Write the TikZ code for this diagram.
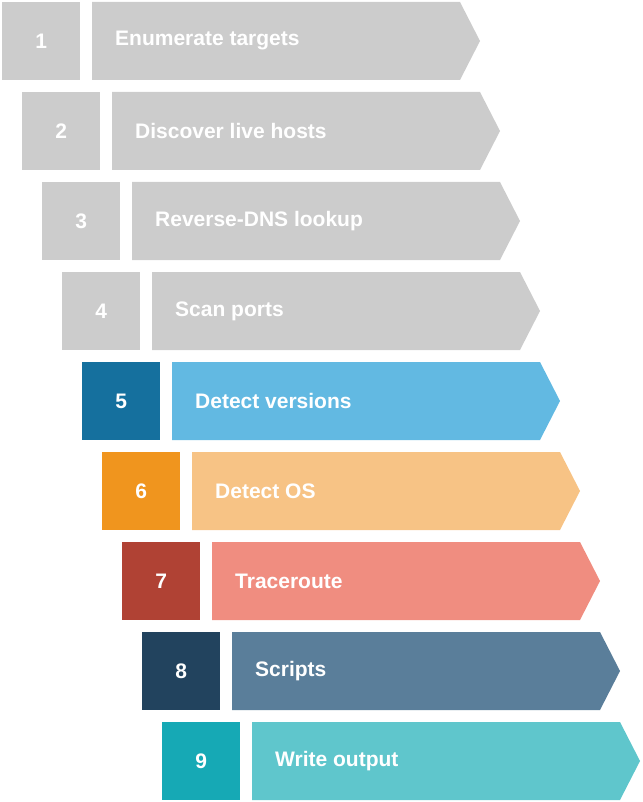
\documentclass[tikz,border=0pt]{standalone}
\usepackage{fontspec}
\setmainfont{Liberation Sans}
\usetikzlibrary{positioning}
\definecolor{greybox}{HTML}{CCCCCC}
\definecolor{blueD}{HTML}{15709E}\definecolor{blueL}{HTML}{62B9E2}
\definecolor{orangeD}{HTML}{F0951E}\definecolor{orangeL}{HTML}{F7C385}
\definecolor{redD}{HTML}{B04234}\definecolor{redL}{HTML}{F08D80}
\definecolor{navyD}{HTML}{22435E}\definecolor{navyL}{HTML}{5A7E9A}
\definecolor{tealD}{HTML}{16A9B5}\definecolor{tealL}{HTML}{5FC6CC}
\tikzset{
  numbox/.style={minimum width=78pt,minimum height=78pt,inner sep=0pt,
    text=white,font=\fontsize{21}{21}\selectfont\bfseries},
  steptext/.style={anchor=west,text=white,inner sep=0pt,
    font=\fontsize{21}{21}\selectfont\bfseries}
}
\begin{document}
\begin{tikzpicture}[x=1pt,y=-1pt]
  \useasboundingbox (0,0) rectangle (642,802);
  \foreach \i/\dark/\light/\label in {
      1/greybox/greybox/Enumerate targets,
      2/greybox/greybox/Discover live hosts,
      3/greybox/greybox/Reverse-DNS lookup,
      4/greybox/greybox/Scan ports,
      5/blueD/blueL/Detect versions,
      6/orangeD/orangeL/Detect OS,
      7/redD/redL/Traceroute,
      8/navyD/navyL/Scripts,
      9/tealD/tealL/Write output}{
    \pgfmathsetmacro{\x}{2+20*(\i-1)}
    \pgfmathsetmacro{\y}{41+90*(\i-1)}
    % number square
    \node[numbox,fill=\dark,anchor=west] (n\i) at (\x,\y) {\i};
    % arrow body
    \coordinate (s\i) at (\x+90,\y);
    \fill[\light] (\x+90,\y-39) -- ++(368,0) -- ++(20,39) -- ++(-20,39)
      -- ++(-368,0) -- cycle;
    \node[steptext] (t\i) at (\x+113,\y) {\label};
  }
\end{tikzpicture}
\end{document}
